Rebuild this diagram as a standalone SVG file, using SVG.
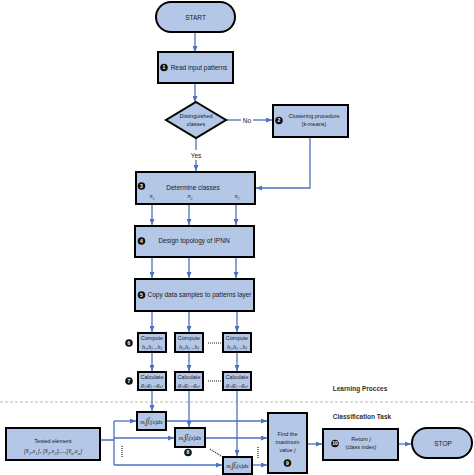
<svg xmlns="http://www.w3.org/2000/svg" width="474" height="475" viewBox="0 0 474 475">
<defs>
<marker id="ah" markerWidth="6" markerHeight="5" refX="6" refY="2.5" orient="auto" markerUnits="userSpaceOnUse">
<path d="M0,0 L6,2.5 L0,5 Z" fill="#4a72c0"/>
</marker>
<style>
.box{fill:#b4c7e7;stroke:#000;stroke-width:2}
.ln{stroke:#4a72c0;stroke-width:1.3;fill:none}
.a{marker-end:url(#ah)}
.t{font-family:"Liberation Sans",Arial,sans-serif;font-size:6.5px;fill:#1a1a1a;text-anchor:middle}
.s{font-size:5.5px}
.lb{font-family:"Liberation Sans",Arial,sans-serif;font-size:6.5px;fill:#333;text-anchor:middle;font-weight:bold}
.m{font-family:"Liberation Serif","Times New Roman",serif;font-size:6px;fill:#1a1a1a;text-anchor:middle;font-style:italic}
.nc{fill:#111}
.nt{font-family:"Liberation Sans",Arial,sans-serif;font-size:5px;fill:#fff;text-anchor:middle;font-weight:bold}
.dot{stroke:#222;stroke-width:1.2;stroke-dasharray:1 1;fill:none}
</style>
</defs>
<rect width="474" height="475" fill="#fff"/>
<line x1="0" y1="402" x2="474" y2="402" stroke="#bbb" stroke-width="1" stroke-dasharray="3 2"/>
<text class="lb" x="360" y="391">Learning Procces</text>
<text class="lb" x="362" y="419">Classification Task</text>

<g id="connectors">
<path class="ln a" d="M195,32 V52"/>
<path class="ln a" d="M195,83 V102"/>
<path class="ln" d="M226,120 H241"/>
<path class="ln a" d="M253,120 H272"/>
<path class="ln" d="M196,138 V150"/>
<path class="ln a" d="M196,160 V171"/>
<path class="ln a" d="M310,137 V188 H256"/>
<path class="ln a" d="M152,204 V225"/>
<path class="ln a" d="M189,204 V225"/>
<path class="ln a" d="M236,204 V225"/>
<path class="ln a" d="M152,257 V278"/>
<path class="ln a" d="M189,257 V278"/>
<path class="ln a" d="M236,257 V278"/>
<path class="ln a" d="M152,311 V332"/>
<path class="ln a" d="M189,311 V332"/>
<path class="ln a" d="M237,311 V332"/>
<path class="ln a" d="M152,352 V371"/>
<path class="ln a" d="M189,352 V371"/>
<path class="ln a" d="M237,352 V371"/>
<path class="ln a" d="M152,390 V411"/>
<path class="ln a" d="M189,390 V427"/>
<path class="ln a" d="M237,390 V456"/>
<path class="ln" d="M100,440 H114 M114,421 V465"/>
<path class="ln a" d="M114,421 H136"/>
<path class="ln a" d="M114,438 H174"/>
<path class="ln a" d="M114,465 H222"/>
<path class="ln a" d="M167,421 H267"/>
<path class="ln a" d="M206,438 H267"/>
<path class="ln a" d="M253,465 H267"/>
<path class="ln a" d="M307,444 H322"/>
<path class="ln a" d="M398,444 H411"/>
<text class="t" x="247" y="122.5">No</text>
<text class="t" x="196" y="157.5">Yes</text>
<path class="dot" d="M208,343 H221 M208,381 H221 M122,446 V458 M258,447 V458 M210,449 L221,456"/>
</g>

<g id="start">
<rect class="box" x="156" y="2" width="79" height="30" rx="15"/>
<text class="t" x="195.5" y="19.5">START</text>
</g>

<g id="read">
<rect class="box" x="158" y="52" width="75" height="31"/>
<circle class="nc" cx="164" cy="67.5" r="3.8"/><text class="nt" x="164" y="69.3">1</text>
<text class="t" x="199" y="69.5">Read input patterns</text>
</g>

<g id="decision">
<path class="box" d="M196,102 L226,120 L196,138 L166,120 Z"/>
<text class="t s" x="196" y="118">Distinguished</text>
<text class="t s" x="196" y="126">classes</text>
</g>

<g id="cluster">
<rect class="box" x="273" y="105" width="75" height="32"/>
<circle class="nc" cx="279" cy="120.5" r="3.8"/><text class="nt" x="279" y="122.3">2</text>
<text class="t s" x="314" y="118">Clustering procedure</text>
<text class="t s" x="314" y="126">(k-means)</text>
</g>

<g id="determine">
<rect class="box" x="136" y="172" width="119" height="32"/>
<circle class="nc" cx="141.5" cy="186" r="3.8"/><text class="nt" x="141.5" y="187.8">3</text>
<text class="t" x="193" y="190">Determine classes</text>
<text class="m" x="152" y="198">π<tspan font-size="4" dy="1.5">1</tspan></text>
<text class="m" x="190" y="198">π<tspan font-size="4" dy="1.5">2</tspan></text>
<text class="m" x="237" y="198">π<tspan font-size="4" dy="1.5">J</tspan></text>
</g>

<g id="design">
<rect class="box" x="135" y="226" width="119" height="31"/>
<circle class="nc" cx="141.5" cy="241" r="3.8"/><text class="nt" x="141.5" y="242.8">4</text>
<text class="t" x="194" y="243">Design topology of IPNN</text>
</g>

<g id="copy">
<rect class="box" x="135" y="279" width="119" height="32"/>
<circle class="nc" cx="141.5" cy="295" r="3.8"/><text class="nt" x="141.5" y="296.8">5</text>
<text class="t" x="199.5" y="297" font-size="5.8">Copy data samples to patterns layer</text>
</g>

<g id="compute1">
<rect class="box" x="138" y="333" width="28" height="19"/>
<text class="t s" x="152" y="340">Compute</text>
<text class="m" x="152" y="348.5">h<tspan font-size="3.5" dy="1">1</tspan><tspan dy="-1">,h</tspan><tspan font-size="3.5" dy="1">2</tspan><tspan dy="-1"> ..h</tspan><tspan font-size="3.5" dy="1">J</tspan></text>
</g>
<g id="compute2">
<rect class="box" x="175" y="333" width="28" height="19"/>
<text class="t s" x="189" y="340">Compute</text>
<text class="m" x="189" y="348.5">h<tspan font-size="3.5" dy="1">1</tspan><tspan dy="-1">,h</tspan><tspan font-size="3.5" dy="1">2</tspan><tspan dy="-1"> ..h</tspan><tspan font-size="3.5" dy="1">J</tspan></text>
</g>
<g id="compute3">
<rect class="box" x="223" y="333" width="28" height="19"/>
<text class="t s" x="237" y="340">Compute</text>
<text class="m" x="237" y="348.5">h<tspan font-size="3.5" dy="1">1</tspan><tspan dy="-1">,h</tspan><tspan font-size="3.5" dy="1">2</tspan><tspan dy="-1"> ..h</tspan><tspan font-size="3.5" dy="1">J</tspan></text>
</g>
<g id="step6">
<circle class="nc" cx="129" cy="343" r="3.8"/><text class="nt" x="129" y="344.8">6</text>
</g>

<g id="calc1">
<rect class="box" x="138" y="372" width="28" height="18"/>
<text class="t s" x="152" y="378.5">Calculate</text>
<text class="m" x="152" y="387">g<tspan font-size="3.5" dy="1">1</tspan><tspan dy="-1">,g</tspan><tspan font-size="3.5" dy="1">2</tspan><tspan dy="-1"> ..g</tspan><tspan font-size="3.5" dy="1">nJ</tspan></text>
</g>
<g id="calc2">
<rect class="box" x="175" y="372" width="28" height="18"/>
<text class="t s" x="189" y="378.5">Calculate</text>
<text class="m" x="189" y="387">g<tspan font-size="3.5" dy="1">1</tspan><tspan dy="-1">,g</tspan><tspan font-size="3.5" dy="1">2</tspan><tspan dy="-1"> ..g</tspan><tspan font-size="3.5" dy="1">nJ</tspan></text>
</g>
<g id="calc3">
<rect class="box" x="223" y="372" width="28" height="18"/>
<text class="t s" x="237" y="378.5">Calculate</text>
<text class="m" x="237" y="387">g<tspan font-size="3.5" dy="1">1</tspan><tspan dy="-1">,g</tspan><tspan font-size="3.5" dy="1">2</tspan><tspan dy="-1"> ..g</tspan><tspan font-size="3.5" dy="1">nJ</tspan></text>
</g>
<g id="step7">
<circle class="nc" cx="129" cy="381" r="3.8"/><text class="nt" x="129" y="382.8">7</text>
</g>

<g id="tested">
<rect class="box" x="6" y="428" width="94" height="32"/>
<text class="t s" x="53" y="443">Tested element</text>
<text class="m" x="53" y="453" font-style="normal" font-size="8">[x̄<tspan font-size="4.5" dy="1.5">1</tspan><tspan dy="-1.5">,x</tspan><tspan font-size="4.5" dy="1.5">1</tspan><tspan dy="-1.5">], [x̄</tspan><tspan font-size="4.5" dy="1.5">2</tspan><tspan dy="-1.5">,x</tspan><tspan font-size="4.5" dy="1.5">2</tspan><tspan dy="-1.5">],...,[x̄</tspan><tspan font-size="4.5" dy="1.5">n</tspan><tspan dy="-1.5">,x</tspan><tspan font-size="4.5" dy="1.5">n</tspan><tspan dy="-1.5">]</tspan></text>
</g>

<g id="integral1">
<rect class="box" x="137" y="412" width="29" height="18"/>
<text class="m" x="151.5" y="423.5">m<tspan font-size="3.5" dy="1">j</tspan><tspan dy="-1" font-size="8">∫</tspan><tspan dy="-1">f̂</tspan><tspan font-size="3.5" dy="1">j</tspan><tspan dy="0">(x)dx</tspan></text>
</g>
<g id="integral2">
<rect class="box" x="175" y="428" width="30" height="19"/>
<text class="m" x="190" y="440">m<tspan font-size="3.5" dy="1">j</tspan><tspan dy="-1" font-size="8">∫</tspan><tspan dy="-1">f̂</tspan><tspan font-size="3.5" dy="1">j</tspan><tspan dy="0">(x)dx</tspan></text>
<circle class="nc" cx="188" cy="452.5" r="3.8"/><text class="nt" x="188" y="454.3">8</text>
</g>
<g id="integral3">
<rect class="box" x="223" y="457" width="29" height="17"/>
<text class="m" x="237.5" y="468">m<tspan font-size="3.5" dy="1">j</tspan><tspan dy="-1" font-size="8">∫</tspan><tspan dy="-1">f̂</tspan><tspan font-size="3.5" dy="1">j</tspan><tspan dy="0">(x)dx</tspan></text>
</g>

<g id="findmax">
<rect class="box" x="268" y="413" width="39" height="60"/>
<text class="t s" x="287.5" y="436">Find the</text>
<text class="t s" x="287.5" y="444">maximum</text>
<text class="t s" x="287.5" y="452">value <tspan font-style="italic">j</tspan></text>
<circle class="nc" cx="287.5" cy="463" r="3.8"/><text class="nt" x="287.5" y="464.8">9</text>
</g>

<g id="return">
<rect class="box" x="323" y="429" width="75" height="31"/>
<circle class="nc" cx="335" cy="443.5" r="3.8"/><text class="nt" x="335" y="445.1" font-size="4">10</text>
<text class="t s" x="361" y="441">Return <tspan font-style="italic">j</tspan></text>
<text class="t s" x="361" y="449">(class index)</text>
</g>

<g id="stop">
<rect class="box" x="412" y="428" width="60" height="30" rx="15"/>
<text class="t" x="443" y="446">STOP</text>
</g>
</svg>
